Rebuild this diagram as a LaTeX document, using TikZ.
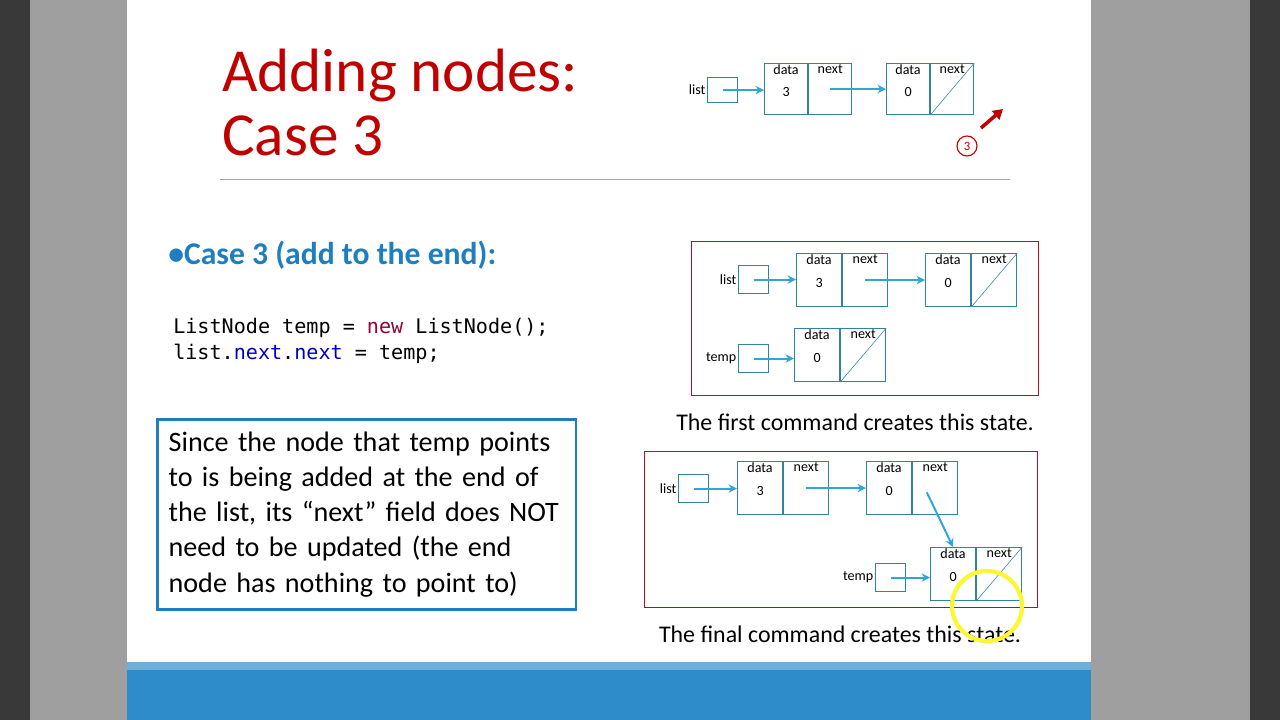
\documentclass[tikz,border=0pt]{standalone}
\usepackage{fontspec}
\setmainfont{Carlito}
\newfontfamily\codefont{DejaVu Sans Mono}
\usetikzlibrary{positioning,arrows.meta}

\definecolor{boxc}{HTML}{31849B}
\definecolor{ptrc}{HTML}{2EA6D6}
\definecolor{titlec}{HTML}{C00000}
\definecolor{headc}{HTML}{1F7EC1}
\definecolor{panelc}{HTML}{B01020}
\definecolor{barc}{HTML}{2E8CCB}

\tikzstyle{cell} = [rectangle, draw=boxc, thick, minimum width=1.125cm, minimum height=1.325cm, inner sep=0pt]
\tikzstyle{ptr} = [rectangle, draw=boxc, thick, minimum width=0.75cm, minimum height=0.7cm, inner sep=0pt]
\tikzstyle{lbl} = [font=\fontsize{10}{11}\selectfont, inner sep=1pt]
\tikzstyle{arrow} = [ptrc, line width=1.4pt, -{Stealth[length=6pt,width=6pt]}]
\tikzstyle{null} = [boxc, thin]

% list node: name, top-left corner, value
\newcommand{\listnode}[3]{
  \node (#1d) [cell, anchor=north west] at (#2) {};
  \node (#1n) [cell, anchor=north west] at (#1d.north east) {};
  \node [lbl, below=0pt of #1d.north] {data};
  \node [lbl, below=0pt of #1n.north] {next};
  \node [lbl] at ([yshift=-2pt]#1d.center) {#3};
}

\begin{document}
\begin{tikzpicture}[x=0.025cm, y=-0.025cm]
  \useasboundingbox (0,0) rectangle (1280,720);
  % background
  \fill[gray!75] (0,0) rectangle (1280,720);
  \fill[gray!45!black] (0,0) rectangle (30,720);
  \fill[gray!45!black] (1250,0) rectangle (1280,720);
  \fill[white] (127,0) rectangle (1091,662);
  \fill[barc] (127,670) rectangle (1091,720);
  \fill[barc!70!white] (127,662) rectangle (1091,670);

  % title
  \node (title) [anchor=north west, align=left, text=titlec, font=\fontsize{43.5}{45}\selectfont, inner sep=0pt] at (222,49) {Adding nodes:\\Case 3};
  \draw[gray!70, thin] (220,179) -- (1010,179);

  % top diagram
  \begin{scope}[cell/.append style={minimum width=1.075cm, minimum height=1.275cm}, ptr/.append style={minimum height=0.625cm}]
    \node (tlist) [ptr, anchor=north west] at (707,77) {};
    \node (tlistl) [lbl, left=0pt of tlist] {list};
    \listnode{ta}{764,63}{3}
    \listnode{tb}{886,63}{0}
    \draw[null] (tbn.south west) -- (tbn.north east);
    \draw [arrow] (tlist.center) -- (tlist.center -| tad.west);
    \draw [arrow] (tan.center) -- (tan.center -| tbd.west);
  \end{scope}
  \node (three) [circle, draw=titlec, thick, text=titlec, inner sep=1pt, minimum size=0.5cm, font=\fontsize{9}{9}\selectfont] at (967,146) {3};
  \coordinate (tip) at (1003,109);
  \draw [titlec, line width=2.5pt, -{Triangle[length=7pt,width=8pt]}] (981,128) -- (tip);

  % heading and code
  \node (head) [anchor=west, text=headc, font=\fontsize{22.5}{23}\selectfont\bfseries, inner sep=0pt] at (168,255) {\textbullet Case 3 (add to the end):};
  \node (code) [anchor=north west, align=left, font=\codefont\fontsize{14.3}{18.5}\selectfont, inner sep=0pt] at (173,318) {ListNode temp = \textcolor{purple!80!black}{new} ListNode();\\list.\textcolor{blue!75!black}{next}.\textcolor{blue!75!black}{next} = temp;};

  % explanation box
  \node (expl) [draw=headc, line width=2pt, anchor=north west, minimum width=10.4cm, minimum height=4.75cm, text width=9.9cm, align=left, inner sep=8pt, font=\fontsize{20}{25}\selectfont] at (156,418) {Since the node that temp points\\to is being added at the end of\\the list, its “next” field does NOT\\need to be updated (the end\\node has nothing to point to)};

  % first state
  \node (pa) [draw=panelc, thin, anchor=north west, minimum width=8.675cm, minimum height=3.85cm] at (691,241) {};
  \node (alist) [ptr, anchor=north west] at (738,265) {};
  \node (alistl) [lbl, left=0pt of alist] {list};
  \listnode{aa}{796,253}{3}
  \listnode{ab}{925,253}{0}
  \draw[null] (abn.south west) -- (abn.north east);
  \node (atemp) [ptr, anchor=north west] at (738,344) {};
  \node (atempl) [lbl, left=0pt of atemp] {temp};
  \listnode{ac}{794,328}{0}
  \draw[null] (acn.south west) -- (acn.north east);
  \draw [arrow] (alist.center) -- (alist.center -| aad.west);
  \draw [arrow] (aan.center) -- (aan.center -| abd.west);
  \draw [arrow] (atemp.center) -- (atemp.center -| acd.west);
  \node (capa) [font=\fontsize{17}{18}\selectfont] at (855,422) {The first command creates this state.};

  % final state
  \node (pb) [draw=panelc, thin, anchor=north west, minimum width=9.825cm, minimum height=3.9cm] at (644,451) {};
  \node (blist) [ptr, anchor=north west] at (678,474) {};
  \node (blistl) [lbl, left=0pt of blist] {list};
  \listnode{ba}{737,461}{3}
  \listnode{bb}{866,461}{0}
  \listnode{bc}{930,547}{0}
  \draw[null] (bcn.south west) -- (bcn.north east);
  \node (btemp) [ptr, anchor=north west] at (875,563) {};
  \node (btempl) [lbl, left=0pt of btemp] {temp};
  \draw [arrow] (blist.center) -- (blist.center -| bad.west);
  \draw [arrow] (ban.center) -- (ban.center -| bbd.west);
  \draw [arrow] ([xshift=-6pt,yshift=-3pt]bbn.center) -- (bcd.north);
  \draw [arrow] (btemp.center) -- (btemp.center -| bcd.west);
  \node (capb) [font=\fontsize{17}{18}\selectfont] at (840,634) {The final command creates this state.};

  % pointer highlight
  \draw[yellow!80, line width=3pt] (987,606) circle (35);
\end{tikzpicture}
\end{document}
